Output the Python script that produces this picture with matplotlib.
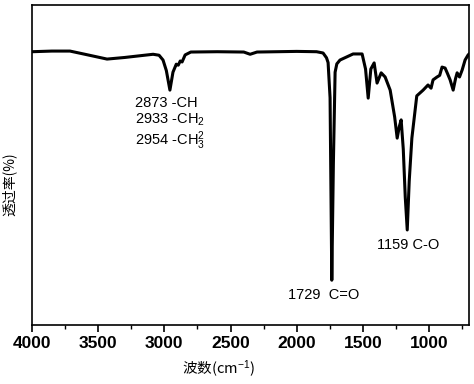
import matplotlib
matplotlib.use("Agg")
import matplotlib.pyplot as plt
from matplotlib.ticker import MultipleLocator

plt.rcParams['font.family'] = ['Liberation Sans', 'DejaVu Sans']
plt.rcParams['mathtext.fontset'] = 'custom'
plt.rcParams['mathtext.rm'] = 'Liberation Sans'
plt.rcParams['mathtext.it'] = 'Liberation Sans:italic'

# FTIR spectrum (wavenumber, transmittance)
wavenumber = [4000, 3850, 3713, 3600, 3433, 3300, 3150, 3085, 3040, 3010,
              2985, 2958, 2935, 2910, 2895, 2880, 2866, 2843, 2800, 2600,
              2400, 2352, 2300, 2000, 1850, 1801, 1775, 1763, 1748, 1735,
              1723, 1710, 1697, 1673, 1574, 1506, 1480, 1460, 1440, 1415,
              1393, 1362, 1332, 1294, 1260, 1241, 1225, 1211, 1195, 1180,
              1165, 1150, 1130, 1093, 1045, 1008, 985, 970, 940, 920,
              902, 879, 860, 841, 818, 800, 788, 770, 750, 728, 705, 700]
transmittance = [85.4, 85.6, 85.6, 84.6, 83.1, 83.6, 84.3, 84.6, 84.3, 82.8,
                 79.5, 73.4, 79.0, 81.5, 81.2, 82.5, 82.2, 84.4, 85.3, 85.4,
                 85.3, 84.6, 85.3, 85.5, 85.4, 85.0, 83.5, 82.0, 71.0, 14.0,
                 50.6, 79.0, 81.6, 82.8, 84.7, 84.7, 80.0, 70.9, 80.0, 81.9,
                 75.6, 78.8, 77.5, 73.4, 65.0, 58.4, 62.0, 64.1, 55.0, 40.0,
                 29.7, 45.0, 58.4, 71.6, 73.4, 75.0, 74.0, 76.6, 77.5, 78.0,
                 80.6, 80.3, 78.5, 76.6, 73.4, 77.0, 78.8, 77.5, 79.7, 82.8, 84.4, 84.6]

labels = ["2873 -CH", "2933 -CH$_2$", "2954 -CH$_3^2$", "1729  C=O", "1159 C-O"]
label_x = [3223, 3223, 3223, 2066, 1393]
label_y = [69.3, 64.0, 57.6, 9.4, 25.0]

fig = plt.figure(figsize=(4.74, 3.84), dpi=100)
ax = fig.add_axes([0.0675, 0.1536, 0.9215, 0.8334])

ax.plot(wavenumber, transmittance, color='black', lw=2.2)

for t, x, y in zip(labels, label_x, label_y):
    ax.text(x, y, t, fontsize=10.5, ha='left', va='center')

ax.set_xlim(4000, 700)
ax.set_ylim(0, 100)
ax.set_yticks([])
ax.xaxis.set_major_locator(MultipleLocator(500))
ax.xaxis.set_minor_locator(MultipleLocator(250))
ax.tick_params(axis='x', which='major', direction='out', length=5, width=1.2, labelsize=12.5, pad=3)
ax.tick_params(axis='x', which='minor', direction='out', length=3, width=1.0)
for lab in ax.get_xticklabels():
    lab.set_fontweight('bold')
for s in ax.spines.values():
    s.set_linewidth(1.2)

ax.set_xlabel("波数(cm$^{-1}$)", fontsize=10.5, family=['Noto Sans CJK SC', 'DejaVu Sans'], labelpad=2)
ax.xaxis.set_label_coords(0.426, -0.105)
ax.set_ylabel("透过率(%)", fontsize=10, family=['Noto Sans CJK SC', 'DejaVu Sans'])
ax.yaxis.set_label_coords(-0.036, 0.44)

fig.savefig("out.png", dpi=100)
